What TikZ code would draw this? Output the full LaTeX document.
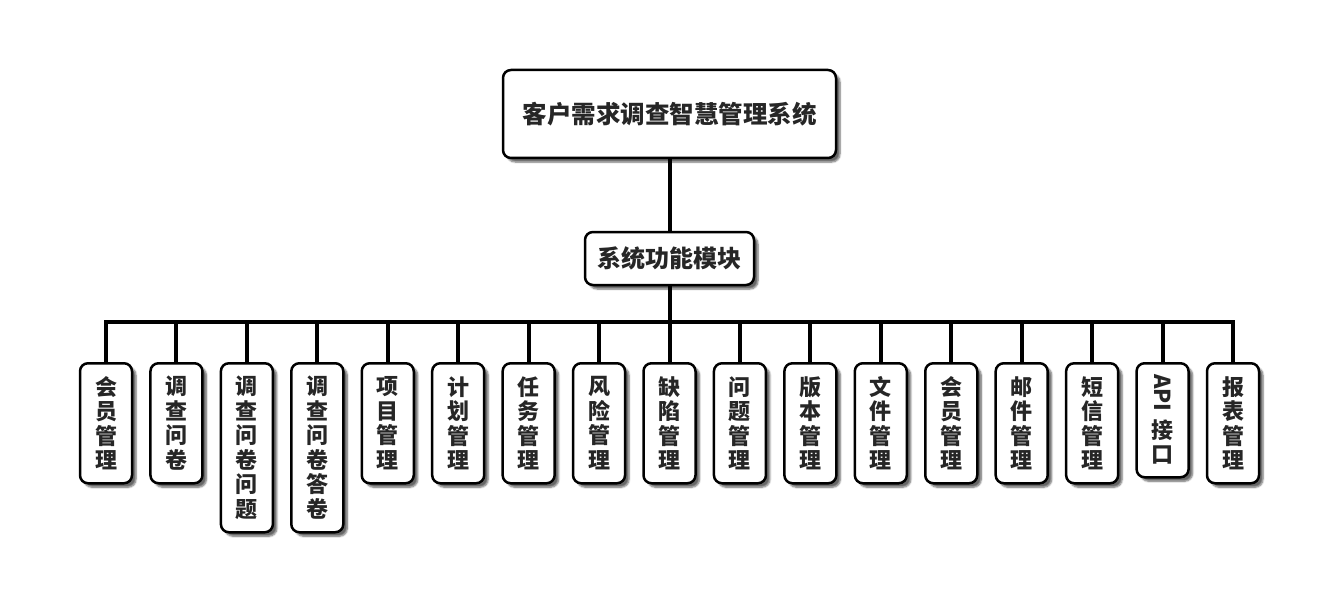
\documentclass[tikz,border=0pt]{standalone}
\usepackage{fontspec}
\newfontfamily\cjk{Noto Sans CJK SC}
\usetikzlibrary{shadows.blur}
\tikzset{
  box/.style={draw=black, line width=2.5pt, fill=white, rounded corners=8pt,
    blur shadow={shadow xshift=4pt, shadow yshift=-4pt, shadow blur steps=6, shadow opacity=60},
    text=black!85, font=\cjk\bfseries},
  leaf/.style={box, anchor=north, minimum width=52pt, inner xsep=2pt, inner ysep=0pt,
    align=center, font=\cjk\bfseries\fontsize{22pt}{24.5pt}\selectfont},
  label/.style={inner sep=0pt, align=center, text=black!85,
    font=\cjk\bfseries\fontsize{22pt}{24.5pt}\selectfont},
  hfour/.style={leaf, minimum height=120pt},
  hsix/.style={leaf, minimum height=169pt},
  wire/.style={line width=4pt, line cap=rect}
}
\begin{document}
\begin{tikzpicture}[x=1pt, y=-1pt]
\useasboundingbox (0,0) rectangle (1339,607);

% root and module level
\node[box, minimum width=333pt, minimum height=88pt, font=\cjk\bfseries\fontsize{24.5pt}{28pt}\selectfont]
  (root) at (669.5,114) {客户需求调查智慧管理系统};
\node[box, minimum width=169pt, minimum height=53pt, font=\cjk\bfseries\fontsize{24pt}{28pt}\selectfont]
  (mod) at (669.5,258.5) {系统功能模块};

% bus line
\coordinate (bus) at (669.5,322);
\coordinate (busL) at (106,322);
\coordinate (busR) at (1233,322);

% leaves
\def\dx{70.4375}
\node[hfour] (c1)  at (106+0*\dx,362) {会\\员\\管\\理};
\node[hfour] (c2)  at (106+1*\dx,362) {调\\查\\问\\卷};
\node[hsix]  (c3)  at (106+2*\dx,362) {调\\查\\问\\卷\\问\\题};
\node[hsix]  (c4)  at (106+3*\dx,362) {调\\查\\问\\卷\\答\\卷};
\node[hfour] (c5)  at (106+4*\dx,362) {项\\目\\管\\理};
\node[hfour] (c6)  at (106+5*\dx,362) {计\\划\\管\\理};
\node[hfour] (c7)  at (106+6*\dx,362) {任\\务\\管\\理};
\node[hfour] (c8)  at (106+7*\dx,362) {风\\险\\管\\理};
\node[hfour] (c9)  at (106+8*\dx,362) {缺\\陷\\管\\理};
\node[hfour] (c10) at (106+9*\dx,362) {问\\题\\管\\理};
\node[hfour] (c11) at (106+10*\dx,362) {版\\本\\管\\理};
\node[hfour] (c12) at (106+11*\dx,362) {文\\件\\管\\理};
\node[hfour] (c13) at (106+12*\dx,362) {会\\员\\管\\理};
\node[hfour] (c14) at (106+13*\dx,362) {邮\\件\\管\\理};
\node[hfour] (c15) at (106+14*\dx,362) {短\\信\\管\\理};
\node[leaf, minimum height=114pt] (c16) at (106+15*\dx,362) {};
\node[label, rotate=-90] (c16a) at ([yshift=-31pt]c16.north) {API};
\node[label] (c16b) at ([yshift=-80pt]c16.north) {接\\口};
\node[hfour] (c17) at (106+16*\dx,362) {报\\表\\管\\理};

% connectors
\begin{scope}[on background layer/.try]
\draw[wire, line cap=butt] (root.south) -- (mod.north);
\draw[wire, line cap=butt] (mod.south) -- (bus);
\draw[wire] (busL) -- (busR);
\foreach \i in {1,...,17} {
  \draw[wire, line cap=butt] (c\i.north |- bus) -- (c\i.north);
}
\end{scope}
\end{tikzpicture}
\end{document}
